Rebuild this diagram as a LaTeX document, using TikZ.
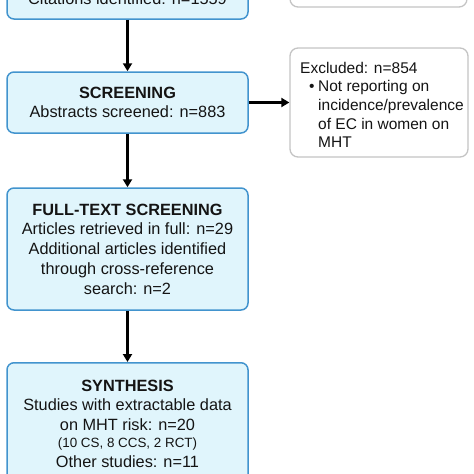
\documentclass[tikz,border=0pt]{standalone}
\usepackage{fontspec}
\setmainfont{Liberation Sans}
\usetikzlibrary{arrows.meta}
\definecolor{boxfill}{RGB}{224,245,252}
\definecolor{boxline}{RGB}{66,148,206}
\definecolor{exline}{RGB}{196,196,196}
\definecolor{ink}{RGB}{20,20,20}
\begin{document}
\begin{tikzpicture}[x=1pt,y=-1pt,
  stage/.style={draw=boxline, fill=boxfill, line width=1.5pt, rounded corners=7pt,
    minimum width=241pt, inner sep=0pt, align=center, text=ink,
    font=\fontsize{16.3}{19.7}\selectfont},
  stagetext/.style={inner sep=0pt, align=center, text=ink,
    font=\fontsize{16.3}{19.7}\selectfont},
  exbox/.style={draw=exline, fill=white, line width=1.3pt, rounded corners=8pt,
    minimum width=178pt, inner sep=0pt},
  extext/.style={inner sep=0pt, align=left, text=ink,
    font=\fontsize{15.5}{18.6}\selectfont},
  flow/.style={draw=black, line width=2.5pt, -{Triangle[length=8pt,width=9pt]}},
]
\useasboundingbox (0,0) rectangle (474,474);
\clip (0,0) rectangle (474,474);

% top (cut) boxes
\node[stage, minimum height=40pt] (ident) at (127.5,-1) {Citations identified: n=1559};
\node[exbox, minimum width=177pt, minimum height=40pt] (topex) at (378.5,-13) {};

% screening
\node[stage, minimum height=61pt] (screen) at (127.5,102.5)
  {\textbf{SCREENING}\\Abstracts screened: n=883};

% excluded
\node[exbox, minimum height=109pt] (excl) at (379,102.5) {};
\node[extext, anchor=west] (excltext) at (300,104.8)
  {Excluded: n=854\\
   \hspace*{9pt}•\hspace*{3.5pt}Not reporting on\\
   \hspace*{18pt}incidence/prevalence\\
   \hspace*{18pt}of EC in women on\\
   \hspace*{18pt}MHT};

% full text
\node[stage, minimum height=122pt] (full) at (127.5,249)
  {\textbf{FULL-TEXT SCREENING}\\
   Articles retrieved in full: n=29\\
   Additional articles identified\\
   through cross-reference\\
   search: n=2};

% synthesis
\node[stage, anchor=north, minimum height=160pt] (synth) at (127.5,362) {};
\node[stagetext] (synthtext) at (127.5,423.5)
  {\textbf{SYNTHESIS}\\
   Studies with extractable data\\
   on MHT risk: n=20\\[-3pt]
   {\fontsize{13.4}{16}\selectfont (10 CS, 8 CCS, 2 RCT)}\\
   Other studies: n=11};

% connectors
\draw[flow] (ident.south) -- (screen.north);
\draw[flow] (screen.east) -- (excl.west);
\draw[flow] (screen.south) -- (full.north);
\draw[flow] (full.south) -- (synth.north);
\end{tikzpicture}
\end{document}
